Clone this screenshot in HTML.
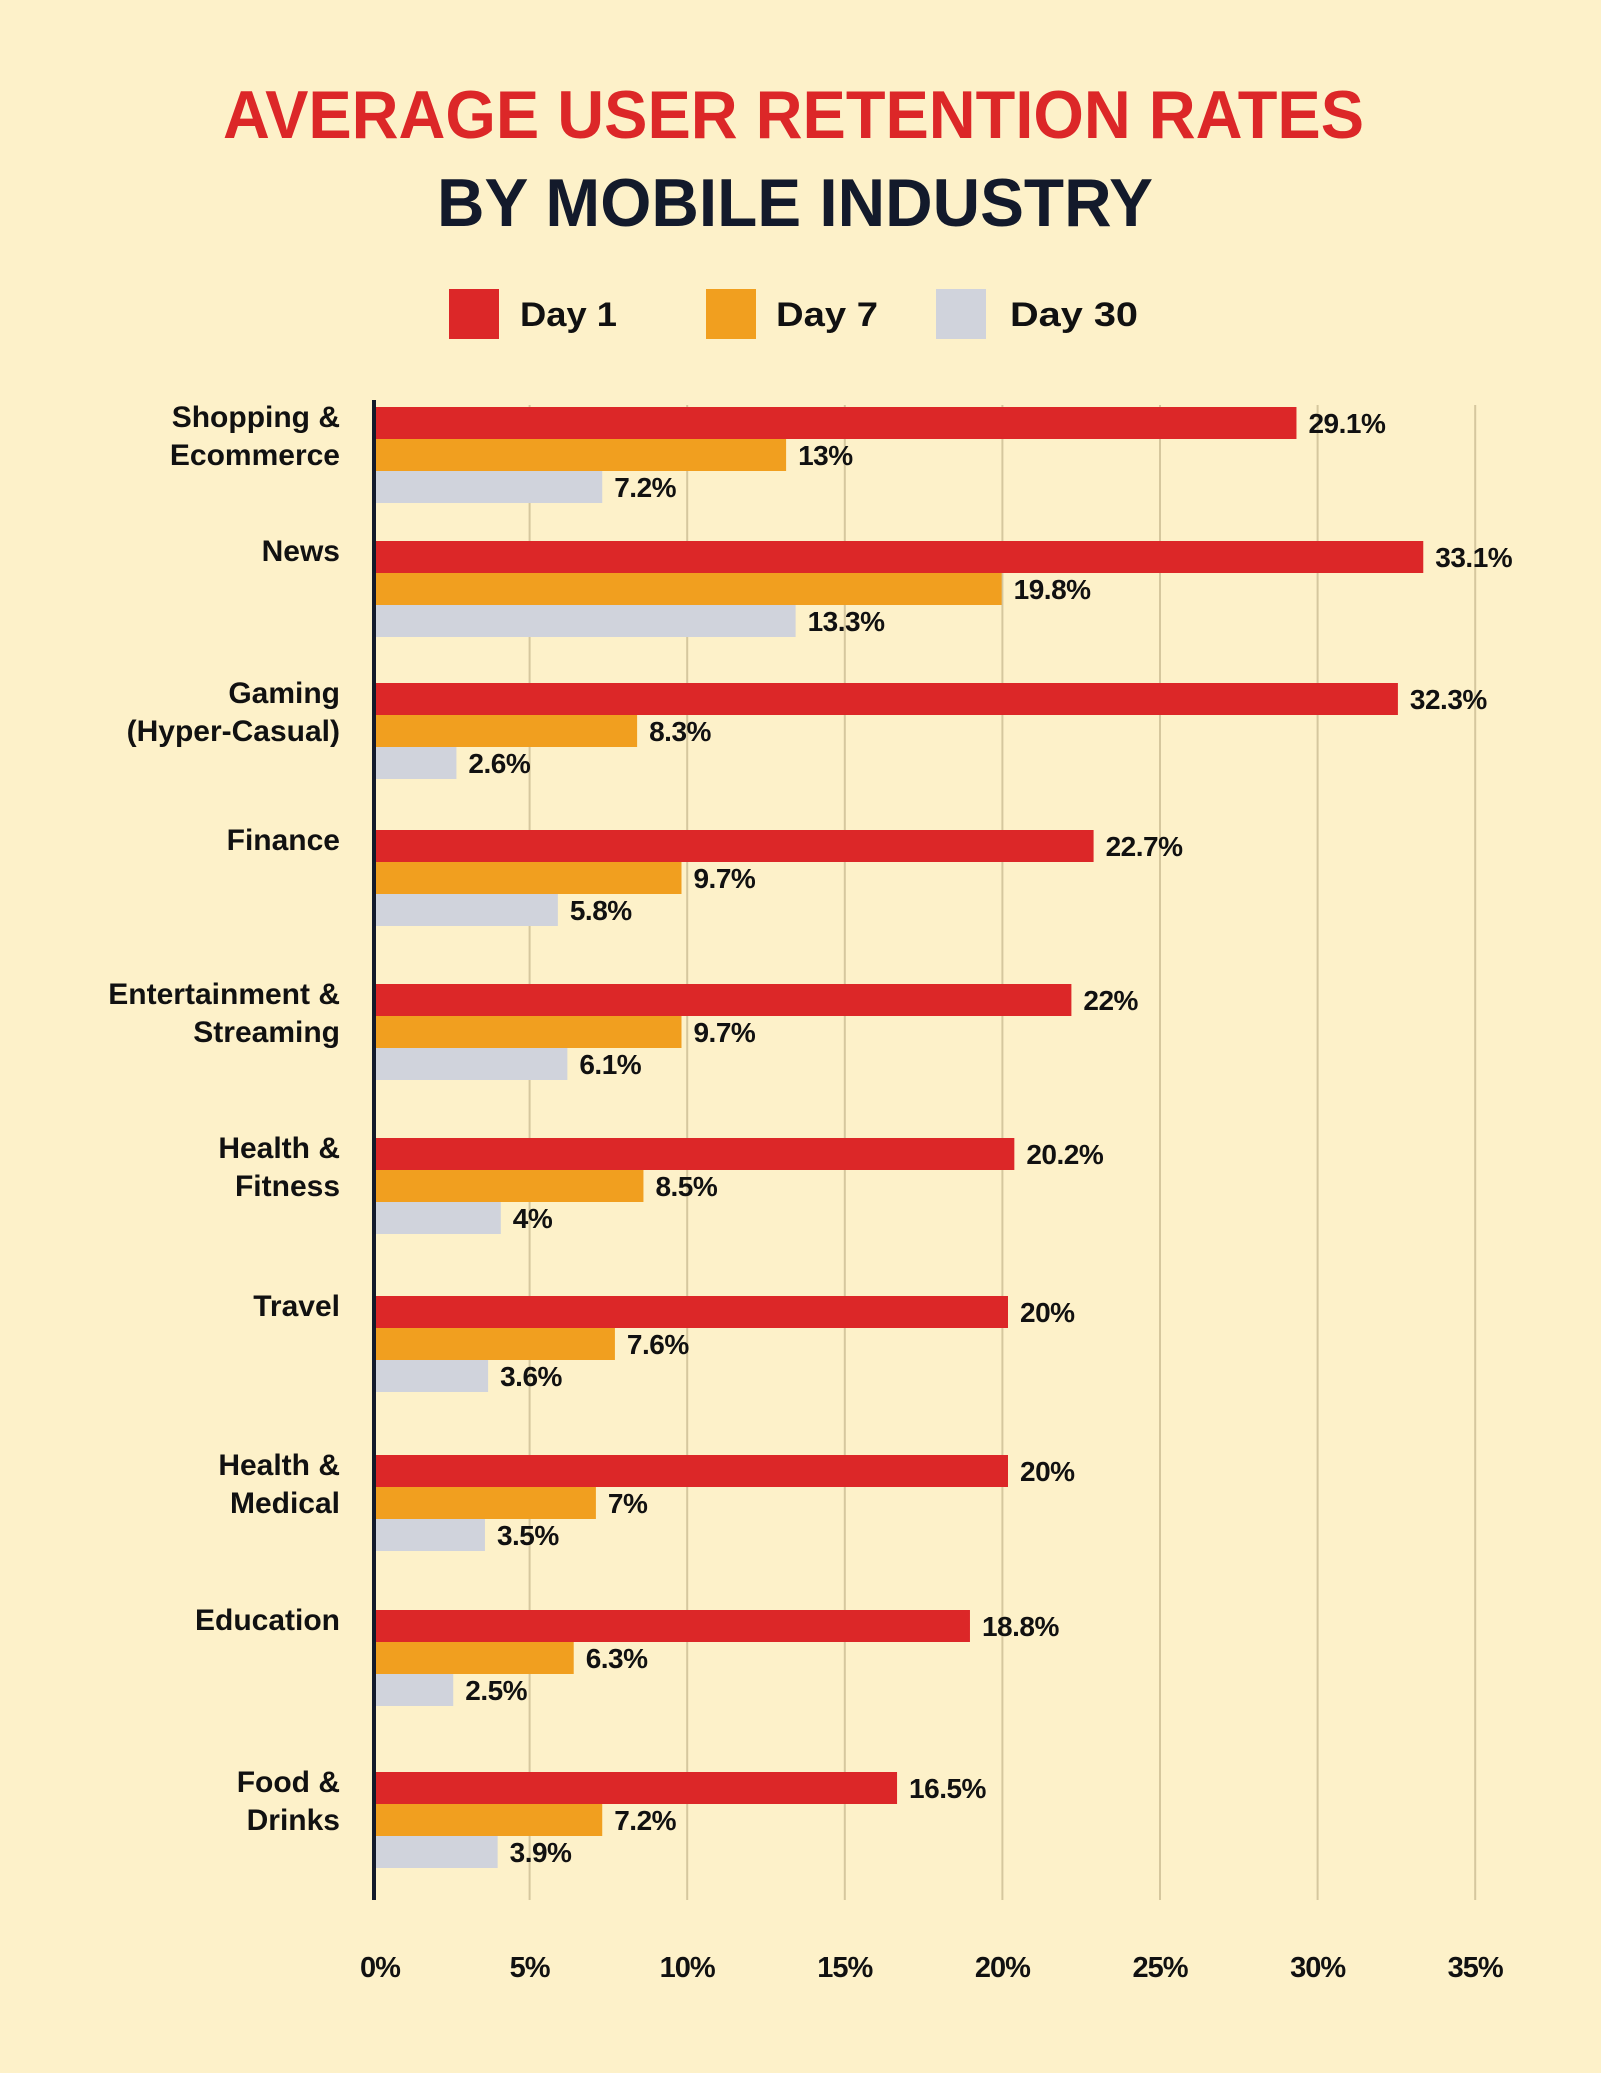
<!DOCTYPE html>
<html><head><meta charset="utf-8"><style>
html,body{margin:0;padding:0;background:#FDF1C9;}
svg{display:block;font-family:"Liberation Sans",sans-serif;font-weight:bold;}
</style></head><body>
<svg id="chart" width="1601" height="2073" viewBox="0 0 1601 2073" xmlns="http://www.w3.org/2000/svg">
<rect x="0" y="0" width="1601" height="2073" fill="#FDF1C9"/>
<text x="223" y="138" font-size="68" fill="#DC2728" textLength="1141" lengthAdjust="spacingAndGlyphs">AVERAGE USER RETENTION RATES</text>
<text x="437" y="226" font-size="68" fill="#131A2B" textLength="716" lengthAdjust="spacingAndGlyphs">BY MOBILE INDUSTRY</text>
<g>
<rect x="449" y="289" width="50" height="50" fill="#DC2728"/>
<text x="520" y="326" font-size="34" fill="#111" textLength="97" lengthAdjust="spacingAndGlyphs">Day 1</text>
<rect x="706" y="289" width="50" height="50" fill="#F19F1F"/>
<text x="776" y="326" font-size="34" fill="#111" textLength="102" lengthAdjust="spacingAndGlyphs">Day 7</text>
<rect x="936" y="289" width="50" height="50" fill="#D0D3DC"/>
<text x="1010" y="326" font-size="34" fill="#111" textLength="128" lengthAdjust="spacingAndGlyphs">Day 30</text>
</g>
<g id="grid"></g><g id="bars"></g><g id="labels"></g>
</svg>
<script>
const categories = [["Shopping &","Ecommerce"],["News"],["Gaming","(Hyper-Casual)"],["Finance"],["Entertainment &","Streaming"],["Health &","Fitness"],["Travel"],["Health &","Medical"],["Education"],["Food &","Drinks"]];
const day1 = [29.1,33.1,32.3,22.7,22,20.2,20,20,18.8,16.5];
const day7 = [13,19.8,8.3,9.7,9.7,8.5,7.6,7,6.3,7.2];
const day30 = [7.2,13.3,2.6,5.8,6.1,4,3.6,3.5,2.5,3.9];
const ticks = [0,5,10,15,20,25,30,35];
const groupTops = [407,541,683,830,984,1138,1296,1455,1610,1772];

const NS = "http://www.w3.org/2000/svg";
const X0 = 374, PX = 31.7, BH = 32;
function x(v){ return X0 + v*PX; }
function gx(v){ return 372 + v*31.52; }
function mk(tag, attrs, parent, txt){
  const e = document.createElementNS(NS, tag);
  for (const k in attrs) e.setAttribute(k, attrs[k]);
  if (txt !== undefined) e.textContent = txt;
  parent.appendChild(e); return e;
}
const grid = document.getElementById('grid');
const bars = document.getElementById('bars');
const labels = document.getElementById('labels');

ticks.forEach(t => {
  if (t > 0) {
    const l = mk('line', {x1:gx(t), x2:gx(t), y1:405, y2:1900, stroke:'#D5C79E', 'stroke-width':2}, grid);
    
    
  }
  const tl = mk('text', {x:gx(t)+(t===0?8:0), y:1977, 'font-size':29, 'text-anchor':'middle', fill:'#111', 'letter-spacing':'-1'}, labels, t + '%');
  
  
});
const axis = mk('rect', {x:372, y:400, width:4, height:1500, fill:'#131A2B'}, grid);



const series = [[day1,'#DC2728','day1'],[day7,'#F19F1F','day7'],[day30,'#D0D3DC','day30']];
categories.forEach((cat, i) => {
  const top = groupTops[i];
  cat.forEach((line, j) => {
    const t = mk('text', {x:340, y:top + 20 + j*38, 'font-size':30, 'text-anchor':'end', fill:'#111'}, labels, line);
    
    
  });
  series.forEach((s, k) => {
    const v = s[0][i];
    const y = top + k*BH;
    const r = mk('rect', {x:376, y:y, width:x(v)-376, height:BH, fill:s[1]}, bars);
    
    
    const vl = mk('text', {x:x(v)+12, y:y+BH/2+10, 'font-size':28, fill:'#111', 'letter-spacing':'-0.5'}, labels, v + '%');
    
    
  });
});
</script>
</body></html>
